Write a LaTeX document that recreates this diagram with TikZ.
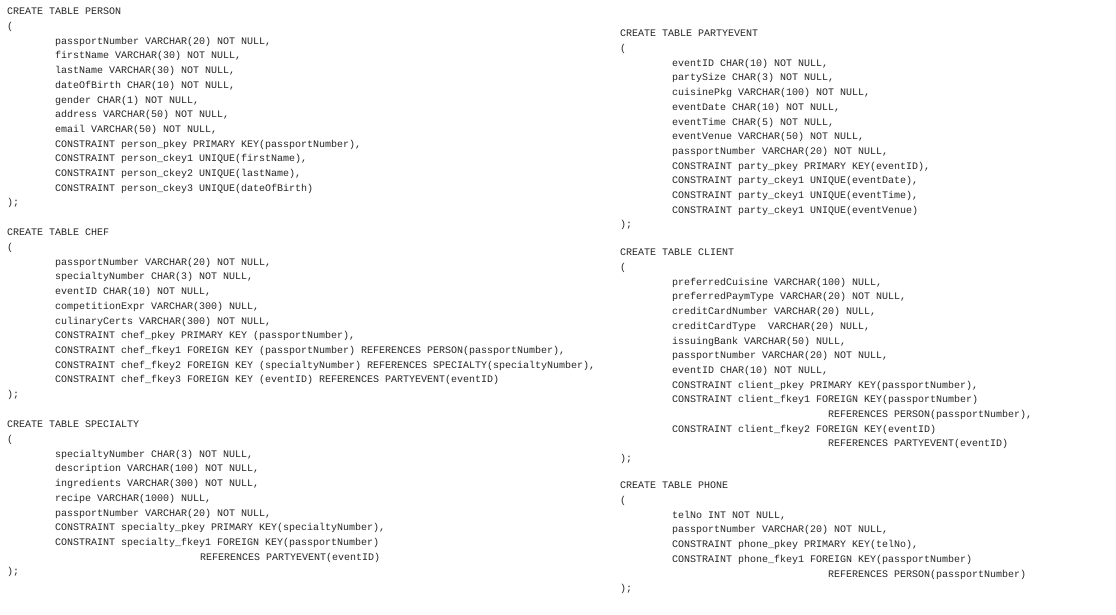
\documentclass[tikz,border=0pt]{standalone}
\usepackage{fontspec}
\setmonofont{Liberation Mono}
\tikzset{code/.style={anchor=north west,inner sep=0pt,align=left,font=\ttfamily\fontsize{10pt}{14.7pt}\selectfont,text=black!85}}
\newcommand{\ind}{\hspace*{48pt}}
\begin{document}
\begin{tikzpicture}[x=1pt,y=-1pt]
\useasboundingbox[fill=white] (0,0) rectangle (1116,615);
\node[code] (person) at (7,8) {CREATE TABLE PERSON\\
(\\
\ind passportNumber VARCHAR(20) NOT NULL,\\
\ind firstName VARCHAR(30) NOT NULL,\\
\ind lastName VARCHAR(30) NOT NULL,\\
\ind dateOfBirth CHAR(10) NOT NULL,\\
\ind gender CHAR(1) NOT NULL,\\
\ind address VARCHAR(50) NOT NULL,\\
\ind email VARCHAR(50) NOT NULL,\\
\ind CONSTRAINT person\_pkey PRIMARY KEY(passportNumber),\\
\ind CONSTRAINT person\_ckey1 UNIQUE(firstName),\\
\ind CONSTRAINT person\_ckey2 UNIQUE(lastName),\\
\ind CONSTRAINT person\_ckey3 UNIQUE(dateOfBirth)\\
);};
\node[code] (chef) at (7,229) {CREATE TABLE CHEF\\
(\\
\ind passportNumber VARCHAR(20) NOT NULL,\\
\ind specialtyNumber CHAR(3) NOT NULL,\\
\ind eventID CHAR(10) NOT NULL,\\
\ind competitionExpr VARCHAR(300) NULL,\\
\ind culinaryCerts VARCHAR(300) NOT NULL,\\
\ind CONSTRAINT chef\_pkey PRIMARY KEY (passportNumber),\\
\ind CONSTRAINT chef\_fkey1 FOREIGN KEY (passportNumber) REFERENCES PERSON(passportNumber),\\
\ind CONSTRAINT chef\_fkey2 FOREIGN KEY (specialtyNumber) REFERENCES SPECIALTY(specialtyNumber),\\
\ind CONSTRAINT chef\_fkey3 FOREIGN KEY (eventID) REFERENCES PARTYEVENT(eventID)\\
);};
\node[code] (specialty) at (7,421) {CREATE TABLE SPECIALTY\\
(\\
\ind specialtyNumber CHAR(3) NOT NULL,\\
\ind description VARCHAR(100) NOT NULL,\\
\ind ingredients VARCHAR(300) NOT NULL,\\
\ind recipe VARCHAR(1000) NULL,\\
\ind passportNumber VARCHAR(20) NOT NULL,\\
\ind CONSTRAINT specialty\_pkey PRIMARY KEY(specialtyNumber),\\
\ind CONSTRAINT specialty\_fkey1 FOREIGN KEY(passportNumber)\\
\hspace*{193pt}REFERENCES PARTYEVENT(eventID)\\
);};
\node[code] (party) at (620,30) {CREATE TABLE PARTYEVENT\\
(\\
\hspace*{52pt}eventID CHAR(10) NOT NULL,\\
\hspace*{52pt}partySize CHAR(3) NOT NULL,\\
\hspace*{52pt}cuisinePkg VARCHAR(100) NOT NULL,\\
\hspace*{52pt}eventDate CHAR(10) NOT NULL,\\
\hspace*{52pt}eventTime CHAR(5) NOT NULL,\\
\hspace*{52pt}eventVenue VARCHAR(50) NOT NULL,\\
\hspace*{52pt}passportNumber VARCHAR(20) NOT NULL,\\
\hspace*{52pt}CONSTRAINT party\_pkey PRIMARY KEY(eventID),\\
\hspace*{52pt}CONSTRAINT party\_ckey1 UNIQUE(eventDate),\\
\hspace*{52pt}CONSTRAINT party\_ckey1 UNIQUE(eventTime),\\
\hspace*{52pt}CONSTRAINT party\_ckey1 UNIQUE(eventVenue)\\
);};
\node[code] (client) at (620,249) {CREATE TABLE CLIENT\\
(\\
\hspace*{52pt}preferredCuisine VARCHAR(100) NULL,\\
\hspace*{52pt}preferredPaymType VARCHAR(20) NOT NULL,\\
\hspace*{52pt}creditCardNumber VARCHAR(20) NULL,\\
\hspace*{52pt}creditCardType~~VARCHAR(20) NULL,\\
\hspace*{52pt}issuingBank VARCHAR(50) NULL,\\
\hspace*{52pt}passportNumber VARCHAR(20) NOT NULL,\\
\hspace*{52pt}eventID CHAR(10) NOT NULL,\\
\hspace*{52pt}CONSTRAINT client\_pkey PRIMARY KEY(passportNumber),\\
\hspace*{52pt}CONSTRAINT client\_fkey1 FOREIGN KEY(passportNumber)\\
\hspace*{208pt}REFERENCES PERSON(passportNumber),\\
\hspace*{52pt}CONSTRAINT client\_fkey2 FOREIGN KEY(eventID)\\
\hspace*{208pt}REFERENCES PARTYEVENT(eventID)\\
);};
\node[code] (phone) at (620,482) {CREATE TABLE PHONE\\
(\\
\hspace*{52pt}telNo INT NOT NULL,\\
\hspace*{52pt}passportNumber VARCHAR(20) NOT NULL,\\
\hspace*{52pt}CONSTRAINT phone\_pkey PRIMARY KEY(telNo),\\
\hspace*{52pt}CONSTRAINT phone\_fkey1 FOREIGN KEY(passportNumber)\\
\hspace*{208pt}REFERENCES PERSON(passportNumber)\\
);};
\end{tikzpicture}
\end{document}
